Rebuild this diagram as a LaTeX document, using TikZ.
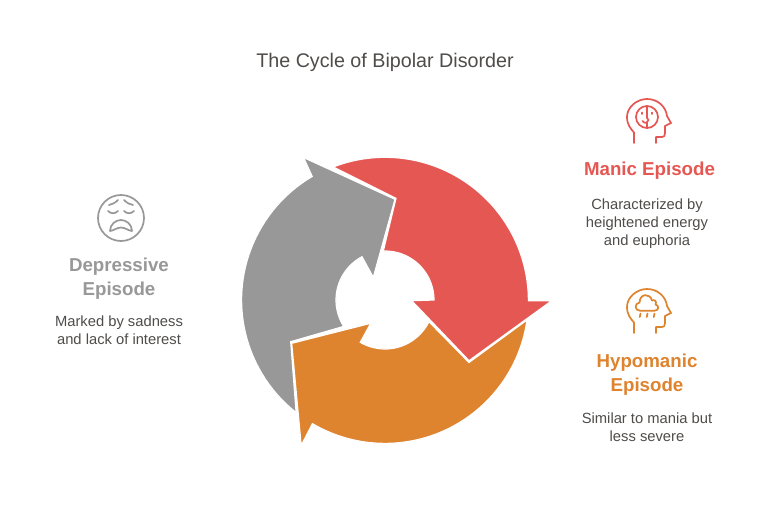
\documentclass[tikz,border=0pt]{standalone}
\usepackage{fontspec}
\setmainfont{Liberation Sans}
\definecolor{cred}{HTML}{E55753}
\definecolor{corange}{HTML}{DE832E}
\definecolor{cgray}{HTML}{989898}
\definecolor{ctext}{HTML}{4F4C4A}
\tikzset{
  x=1pt,y=1pt,
  titletext/.style={text=ctext,font=\fontsize{19.7}{24}\selectfont,inner sep=0pt},
  headtext/.style={font=\bfseries\fontsize{18.7}{24}\selectfont,align=center,inner sep=0pt},
  bodytext/.style={text=ctext,font=\fontsize{14.75}{18}\selectfont,align=center,inner sep=0pt},
  iconline/.style={line width=1.7pt,line cap=round,line join=round},
  blade/.style={draw=white,line width=1.2pt,line join=miter},
  headicon/.pic={
    \begin{scope}[y=-1pt,x=1pt]
    \draw[iconline,pic actions] (-13,26) -- (-13,15.5) .. controls (-16,12) and (-20,8) .. (-20,0)
      .. controls (-20,-10) and (-10,-18) .. (0,-18)
      .. controls (11,-18) and (19,-10) .. (20,-1) -- (24,6) -- (18,9) -- (18,16)
      .. controls (18,19) and (17,20) .. (15,20) -- (9,20) -- (9,26);
    \end{scope}
  }
}
\begin{document}
\begin{tikzpicture}
\useasboundingbox (-385,-225) rectangle (385,300);
\fill[white] (-385,-225) rectangle (385,300);
% ring: origin at its centre
\filldraw[blade,fill=cgray] (231.7:143.4) -- (-94.3,-41.7) -- (212.6:49) arc[start angle=212.6,end angle=118,radius=49]
  -- (-11.7,22.7) -- (10,100.7) -- (-81.5,142.5) -- (120.5:143.4) arc[start angle=120.5,end angle=231.7,radius=143.4] -- cycle;
\filldraw[blade,fill=corange] (-8:143.4) -- (84,-62.5) -- (-26.3:49) arc[start angle=-26.3,end angle=-120.3,radius=49]
  -- (-14.3,-23.3) -- (-93.3,-43.3) -- (-83.8,-145.5) -- (-120.4:143.4) arc[start angle=-120.4,end angle=-8,radius=143.4] -- cycle;
\filldraw[blade,fill=cred] (111.5:143.4) -- (11,101.7) -- (92:49) arc[start angle=92,end angle=0,radius=49]
  -- (26.7,-0.7) -- (84,-60.7) -- (166.8,-0.7) -- (143.4,-0.7) arc[start angle=0,end angle=111.5,radius=143.4] -- cycle;
% texts
\node[titletext] (title) at (0,238) {The Cycle of Bipolar Disorder};
\node[headtext,text=cred] (manic) at (264.5,129.5) {Manic Episode};
\node[bodytext] (manicbody) at (262,76) {Characterized by\\heightened energy\\and euphoria};
\node[headtext,text=corange] (hypo) at (262,-75) {Hypomanic\\Episode};
\node[bodytext] (hypobody) at (262,-127.5) {Similar to mania but\\less severe};
\node[headtext,text=cgray] (dep) at (-266,21) {Depressive\\Episode};
\node[bodytext] (depbody) at (-266,-30.5) {Marked by sadness\\and lack of interest};
% manic icon
\pic[draw=cred,cred] at (262,183) {headicon};
\begin{scope}[shift={(262,183)},y=-1pt,iconline,draw=cred]
  \draw (0,0) circle[radius=11];
  \draw (0,-11) -- (0,1) -- (1.5,3) -- (0,5) -- (0,11);
  \draw (-5,-4.5) -- (-5,-3); \draw (5,-4.5) -- (5,-3);
  \draw (-4.5,4) .. controls (-3.5,5.5) and (-2,6) .. (0,6);
\end{scope}
% hypomanic icon
\pic[draw=corange,corange] at (262,-7) {headicon};
\begin{scope}[shift={(262,-7)},y=-1pt,iconline,draw=corange]
  \draw (-7,3.7) .. controls (-12.5,3.7) and (-13,-3.5) .. (-7.5,-4.5)
    .. controls (-7,-14) and (3,-14) .. (5,-6.5)
    .. controls (8,-8) and (10,-5) .. (8.5,-2.5)
    .. controls (12,-2) and (12.5,3.7) .. (7.5,3.7) -- cycle;
  \draw (-6.5,6.5) -- (-7.2,10);
  \draw (0.5,6.5) -- (-0.2,10);
  \draw (7.5,6.5) -- (6.8,10);
\end{scope}
% depressive icon
\begin{scope}[shift={(-264,82)},y=-1pt,iconline,draw=cgray]
  \draw (0,0) circle[radius=23];
  \draw (-12,-13) .. controls (-9,-13.5) and (-6,-15) .. (-3,-18);
  \draw (3,-18) .. controls (6,-15) and (9,-13.5) .. (12,-13);
  \draw (-13,-7) .. controls (-10,-4) and (-6,-4) .. (-3,-7);
  \draw (3,-7) .. controls (6,-4) and (10,-4) .. (13,-7);
  \draw (-11,13) .. controls (-11,6) and (-5,2) .. (0,2)
    .. controls (5,2) and (11,6) .. (11,13)
    .. controls (8,13) and (4,9.5) .. (0,9.5)
    .. controls (-4,9.5) and (-8,13) .. (-11,13) -- cycle;
\end{scope}
\end{tikzpicture}
\end{document}
